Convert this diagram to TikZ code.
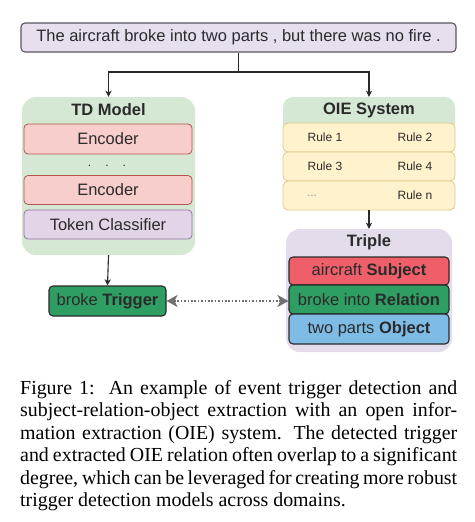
\documentclass[tikz,border=0pt]{standalone}
\usepackage{fontspec}
\setmainfont{Liberation Serif}
\newfontfamily\dsans{Liberation Sans}
\usetikzlibrary{arrows.meta}
\definecolor{txt}{HTML}{2B2B2B}
\definecolor{sentfill}{HTML}{E7DEEE}
\definecolor{sentdraw}{HTML}{5A5560}
\definecolor{tdgreen}{HTML}{D5E8D4}
\definecolor{encfill}{HTML}{F8CECC}
\definecolor{encdraw}{HTML}{B85450}
\definecolor{tokfill}{HTML}{E1D5E7}
\definecolor{tokdraw}{HTML}{9673A6}
\definecolor{rulefill}{HTML}{FFF2CC}
\definecolor{ruledraw}{HTML}{E2C98A}
\definecolor{triplefill}{HTML}{E4DBEB}
\definecolor{subjfill}{HTML}{EF5F69}
\definecolor{relfill}{HTML}{2E9E63}
\definecolor{objfill}{HTML}{7EBCE6}
\definecolor{dk}{HTML}{2A2A2A}
\definecolor{dotgray}{HTML}{707070}
\tikzset{
  box/.style={draw, rounded corners=4pt, inner sep=0pt, line width=1.1pt, text=txt,
    font=\dsans\fontsize{16.5}{19}\selectfont},
  cont/.style={rounded corners=14pt, inner sep=0pt, draw=none},
  titletext/.style={inner sep=0pt, text=dk, font=\dsans\bfseries\fontsize{16.5}{19}\selectfont},
  rulebox/.style={draw=ruledraw, fill=rulefill, rounded corners=5pt, inner sep=0pt, line width=0.8pt,
    minimum width=172pt, minimum height=29pt},
  ruletext/.style={inner sep=0pt, text=txt, font=\dsans\fontsize{12}{14}\selectfont},
  arr/.style={line width=1.1pt, draw=dk, -{Stealth[length=6pt,width=6pt,inset=1.5pt]}},
  plainline/.style={line width=1.1pt, draw=dk},
  dotarr/.style={line width=2pt, draw=dotgray, dash pattern=on 1.6pt off 1.8pt,
    {Stealth[length=11pt,width=12pt,inset=3pt,fill=dotgray]}-{Stealth[length=11pt,width=12pt,inset=3pt,fill=dotgray]}}
}
\begin{document}
\begin{tikzpicture}[x=1pt,y=-1pt]
\useasboundingbox[fill=white] (0,0) rectangle (474,522);

% input sentence
\node[box, fill=sentfill, draw=sentdraw, minimum width=435pt, minimum height=29pt] (sent) at (238.5,37.5)
  {The aircraft broke into two parts , but there was no fire .};

% TD model
\node[cont, fill=tdgreen, minimum width=173pt, minimum height=158pt] (td) at (108.5,176) {};
\node[titletext] (tdt) at (108.5,110) {TD Model};
\node[box, fill=encfill, draw=encdraw, line width=0.8pt, minimum width=168pt, minimum height=30pt] (enc1) at (108,139) {Encoder};
\node[inner sep=0pt, anchor=base, text=txt, font=\dsans\fontsize{12}{14}\selectfont] (dots) at (107,166) {.\hspace{14pt}.\hspace{14pt}.};
\node[box, fill=encfill, draw=encdraw, line width=0.8pt, minimum width=168pt, minimum height=29pt] (enc2) at (108,190) {Encoder};
\node[box, fill=tokfill, draw=tokdraw, line width=0.8pt, minimum width=168pt, minimum height=29pt] (tok) at (108,224.5) {Token Classifier};

% trigger
\node[box, fill=relfill, draw=dk, text=dk, minimum width=117pt, minimum height=30pt] (trig) at (107.5,301) {broke \textbf{Trigger}};

% OIE system
\node[rounded corners=10pt, fill=tdgreen, inner sep=0pt, minimum width=172pt, minimum height=36pt] (oiehead) at (369,115) {};
\node[titletext] (oiet) at (369,110) {OIE System};
\node[rulebox] (r1) at (369,137.5) {};
\node[rulebox] (r2) at (369,166.5) {};
\node[rulebox] (r3) at (369,195.5) {};
\node[ruletext] (r1a) at (325,137.5) {Rule 1};
\node[ruletext] (r1b) at (415,137.5) {Rule 2};
\node[ruletext] (r2a) at (325,166.5) {Rule 3};
\node[ruletext] (r2b) at (415,166.5) {Rule 4};
\node[ruletext, text=gray!80] (r3a) at (312,195.5) {...};
\node[ruletext] (r3b) at (415,195.5) {Rule n};

% Triple
\node[cont, fill=triplefill, minimum width=166pt, minimum height=123pt] (triple) at (369,290.5) {};
\node[titletext] (tript) at (369,242) {Triple};
\node[box, fill=subjfill, draw=dk, text=dk, minimum width=160pt, minimum height=28pt] (subj) at (369,271) {aircraft \textbf{Subject}};
\node[box, fill=relfill, draw=dk, text=dk, minimum width=160pt, minimum height=29pt] (rel) at (369,299.5) {broke into \textbf{Relation}};
\node[box, fill=objfill, draw=dk, text=dk, minimum width=160pt, minimum height=30pt] (obj) at (369,329) {two parts \textbf{Object}};

% connectors
\coordinate (split) at (238.5,72);
\draw[plainline] (sent.south) -- (split);
\draw[arr] (split) -| (td.north);
\draw[arr] (split) -| (oiehead.north);
\draw[arr] (r3.south) -- (triple.north);
\draw[arr] (td.south) -- (trig.north);
\draw[dotarr] (trig.east) -- (trig.east -| rel.west);

% caption
\node[anchor=base west, text width=437pt, inner sep=0pt, align=justify,
  font=\fontsize{19.9}{22.5}\selectfont] (cap) at (20,394)
{Figure 1:\ \ An example of event trigger detection and\linebreak
subject-relation-object extraction with an open infor-\linebreak
mation extraction (OIE) system. The detected trigger\linebreak
and extracted OIE relation often overlap to a significant\linebreak
degree, which can be leveraged for creating more robust\linebreak
trigger detection models across domains.};
\end{tikzpicture}
\end{document}
